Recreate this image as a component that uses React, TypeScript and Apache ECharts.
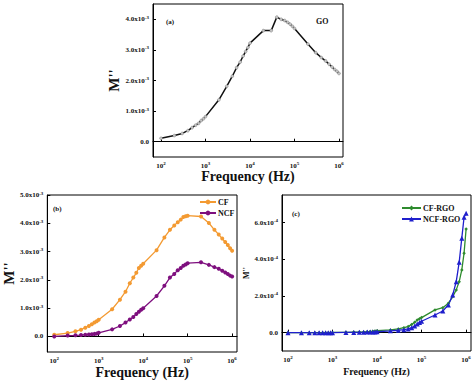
import React, { useEffect, useRef } from "react";
import * as echarts from "echarts";

const FONT = "Liberation Serif";

// Frequencies (Hz) shared by all panels
const freq = [
  100, 200, 300, 400, 500, 600, 700, 800, 900,
  1000, 2000, 3000, 4000, 5000, 6000, 7000, 8000, 9000,
  10000, 20000, 30000, 40000, 50000, 60000, 70000, 80000, 90000,
  100000, 200000, 300000, 400000, 500000, 600000, 700000, 800000, 900000,
  1000000,
];

// Panel (a) GO, M'' in units of 1e-3
const goValues = [
  0.11, 0.2, 0.27, 0.36, 0.46, 0.54, 0.6, 0.69, 0.75,
  0.82, 1.37, 1.81, 2.14, 2.42, 2.6, 2.8, 2.95, 3.08,
  3.22, 3.63, 3.63, 4.07, 4.0, 3.96, 3.9, 3.84, 3.77,
  3.7, 3.19, 2.91, 2.75, 2.64, 2.53, 2.44, 2.36, 2.3,
  2.23,
];

// Panel (b) CF and NCF, units of 1e-3
const cfValues = [
  0.06, 0.12, 0.18, 0.24, 0.31, 0.37, 0.43, 0.49, 0.54,
  0.59, 0.96, 1.3, 1.58, 1.88, 2.08, 2.25, 2.42, 2.5,
  2.57, 3.05, 3.5, 3.77, 3.92, 4.04, 4.13, 4.22, 4.25,
  4.27, 4.24, 4.01, 3.77, 3.6, 3.46, 3.34, 3.23, 3.12,
  3.03,
];
const ncfValues = [
  0.0, 0.03, 0.04, 0.05, 0.06, 0.07, 0.08, 0.09, 0.1,
  0.13, 0.25, 0.37, 0.49, 0.6, 0.69, 0.79, 0.87, 0.94,
  1.0, 1.43, 1.79, 2.08, 2.21, 2.34, 2.42, 2.5, 2.54,
  2.59, 2.62, 2.53, 2.45, 2.39, 2.32, 2.26, 2.21, 2.15,
  2.12,
];

// Panel (c) CF-RGO and NCF-RGO, units of 1e-4
const cfRgoValues = [
  0, 0, 0, 0, 0, 0, 0, 0, 0,
  0.01, 0.02, 0.03, 0.03, 0.04, 0.05, 0.06, 0.07, 0.09,
  0.11, 0.15, 0.2, 0.27, 0.33, 0.45, 0.56, 0.69, 0.76,
  0.82, 1.24, 1.36, 1.6, 1.96, 2.33, 2.78, 3.42, 4.33,
  5.65,
];
const ncfRgoValues = [
  0, 0, 0, 0, 0, 0, 0, 0, 0,
  0, 0.01, 0.01, 0.02, 0.02, 0.03, 0.03, 0.04, 0.04,
  0.05, 0.1, 0.13, 0.16, 0.2, 0.27, 0.36, 0.47, 0.55,
  0.62, 0.96, 1.18, 1.51, 2.05, 2.78, 3.84, 5.15, 6.29,
  6.5,
];

const yTicksA = [0, 1, 2, 3, 4];
const yTicksB = [0, 1, 2, 3, 4, 5];
const yTicksC = [0, 2, 4, 6];

const rich = {
  b: { fontSize: 7, fontWeight: "bold", fontFamily: FONT, color: "#111" },
  s: { fontSize: 5, fontWeight: "bold", fontFamily: FONT, color: "#111", padding: [0, 0, 4, 0] },
};

const yFmt = (exp: string) => (v: number) =>
  Math.abs(v) < 1e-9 ? "{b|0.0}" : `{b|${v.toFixed(1)}x10}{s|${exp}}`;
const xFmt = (v: number) => {
  const l = Math.log10(v);
  const e = Math.round(l);
  if (Math.abs(l - e) > 1e-6) return "";
  return `{b|10}{s|${e}}`;
};

function pairs(vals: number[]) {
  return freq.map((f, i) => [f, vals[i]]);
}

export default function App() {
  const ref = useRef<HTMLDivElement>(null);
  useEffect(() => {
    if (!ref.current) return;
    const chart = echarts.init(ref.current, null, { renderer: "svg" });
    const grid = (left: number, top: number, width: number, height: number) => ({
      left, top, width, height, show: true, borderColor: "#000", borderWidth: 1,
      backgroundColor: "transparent", containLabel: false,
    });
    const xAxis = (gi: number, min: number, max: number, nameSize: number, gap: number) => ({
      type: "log", logBase: 10, gridIndex: gi, min, max,
      name: "Frequency (Hz)", nameLocation: "middle", nameGap: gap,
      nameTextStyle: { fontFamily: FONT, fontWeight: "bold", fontSize: nameSize, color: "#111" },
      axisLine: { lineStyle: { color: "#000", width: 1 } },
      axisTick: { inside: true, length: 3, lineStyle: { color: "#000" } },
      minorTick: { show: false },
      splitLine: { show: false },
      axisLabel: { formatter: xFmt, rich, margin: 4, showMinLabel: false, showMaxLabel: false },
    });
    const yAxis = (gi: number, min: number, max: number, ticks: number[], exp: string, nameSize: number, gap: number) => ({
      type: "value", gridIndex: gi, min, max,
      name: "M''", nameLocation: "middle", nameGap: gap,
      nameTextStyle: { fontFamily: FONT, fontWeight: "bold", fontSize: nameSize, color: "#111" },
      axisLine: { show: true, lineStyle: { color: "#000", width: 1 } },
      axisTick: { show: true, inside: true, length: 3, customValues: ticks, lineStyle: { color: "#000" } },
      splitLine: { show: false },
      axisLabel: { formatter: yFmt(exp), rich, margin: 4, customValues: ticks },
    });
    const lineSeries = (name: string, gi: number, vals: number[], color: string, symbol: string, size: number, extra: any = {}) => ({
      name, type: "line", xAxisIndex: gi, yAxisIndex: gi, data: pairs(vals),
      symbol, symbolSize: size, showSymbol: true,
      lineStyle: { color, width: 1.3 },
      itemStyle: { color },
      ...extra,
    });
    chart.setOption({
      animation: false,
      backgroundColor: "#fff",
      grid: [grid(153, 4, 190, 153), grid(45, 195, 192, 157), grid(282, 195, 189, 156)],
      xAxis: [
        xAxis(0, Math.pow(10, 1.82), Math.pow(10, 6.09), 14, 12),
        xAxis(1, Math.pow(10, 1.844), Math.pow(10, 6.11), 14, 13),
        xAxis(2, Math.pow(10, 1.865), Math.pow(10, 6.11), 10, 15),
      ],
      yAxis: [
        yAxis(0, -0.5, 4.5, yTicksA, "-3", 15, 30),
        yAxis(1, -0.55, 5.0, yTicksB, "-3", 15, 25),
        yAxis(2, -1.0, 7.5, yTicksC, "-4", 8, 13),
      ],
      legend: [
        {
          data: ["CF", "NCF"], orient: "vertical", left: 199, top: 198, padding: 0,
          itemWidth: 16, itemHeight: 6, itemGap: 3,
          textStyle: { fontFamily: FONT, fontWeight: "bold", fontSize: 8, color: "#111", padding: [0, 0, 0, -3] },
        },
        {
          data: ["CF-RGO", "NCF-RGO"], orient: "vertical", left: 401, top: 204, padding: 0,
          itemWidth: 19, itemHeight: 6, itemGap: 3,
          textStyle: { fontFamily: FONT, fontWeight: "bold", fontSize: 8, color: "#111", padding: [0, 0, 0, -3] },
        },
      ],
      graphic: [
        { type: "text", left: 166, top: 18, style: { text: "(a)", font: `bold 7px ${FONT}`, fill: "#111" } },
        { type: "text", left: 316, top: 17, style: { text: "GO", font: `bold 8px ${FONT}`, fill: "#111" } },
        { type: "text", left: 53, top: 205, style: { text: "(b)", font: `bold 7px ${FONT}`, fill: "#111" } },
        { type: "text", left: 292, top: 210, style: { text: "(c)", font: `bold 7px ${FONT}`, fill: "#111" } },
      ],
      series: [
        lineSeries("GO", 0, goValues, "#111", "circle", 3, {
          lineStyle: { color: "#111", width: 1.5 },
          itemStyle: { color: "#c4c4c4", borderColor: "#555", borderWidth: 0.3 },
        }),
        lineSeries("CF", 1, cfValues, "#F39A32", "circle", 4),
        lineSeries("NCF", 1, ncfValues, "#7E0F7E", "circle", 4),
        lineSeries("CF-RGO", 2, cfRgoValues, "#2E8B2E", "diamond", 3.5),
        lineSeries("NCF-RGO", 2, ncfRgoValues, "#1F1FCC", "triangle", 5),
      ],
    });
    return () => chart.dispose();
  }, []);
  return (
    <div
      ref={ref}
      style={{ position: "fixed", left: 0, top: 0, width: 474, height: 383 }}
    />
  );
}
